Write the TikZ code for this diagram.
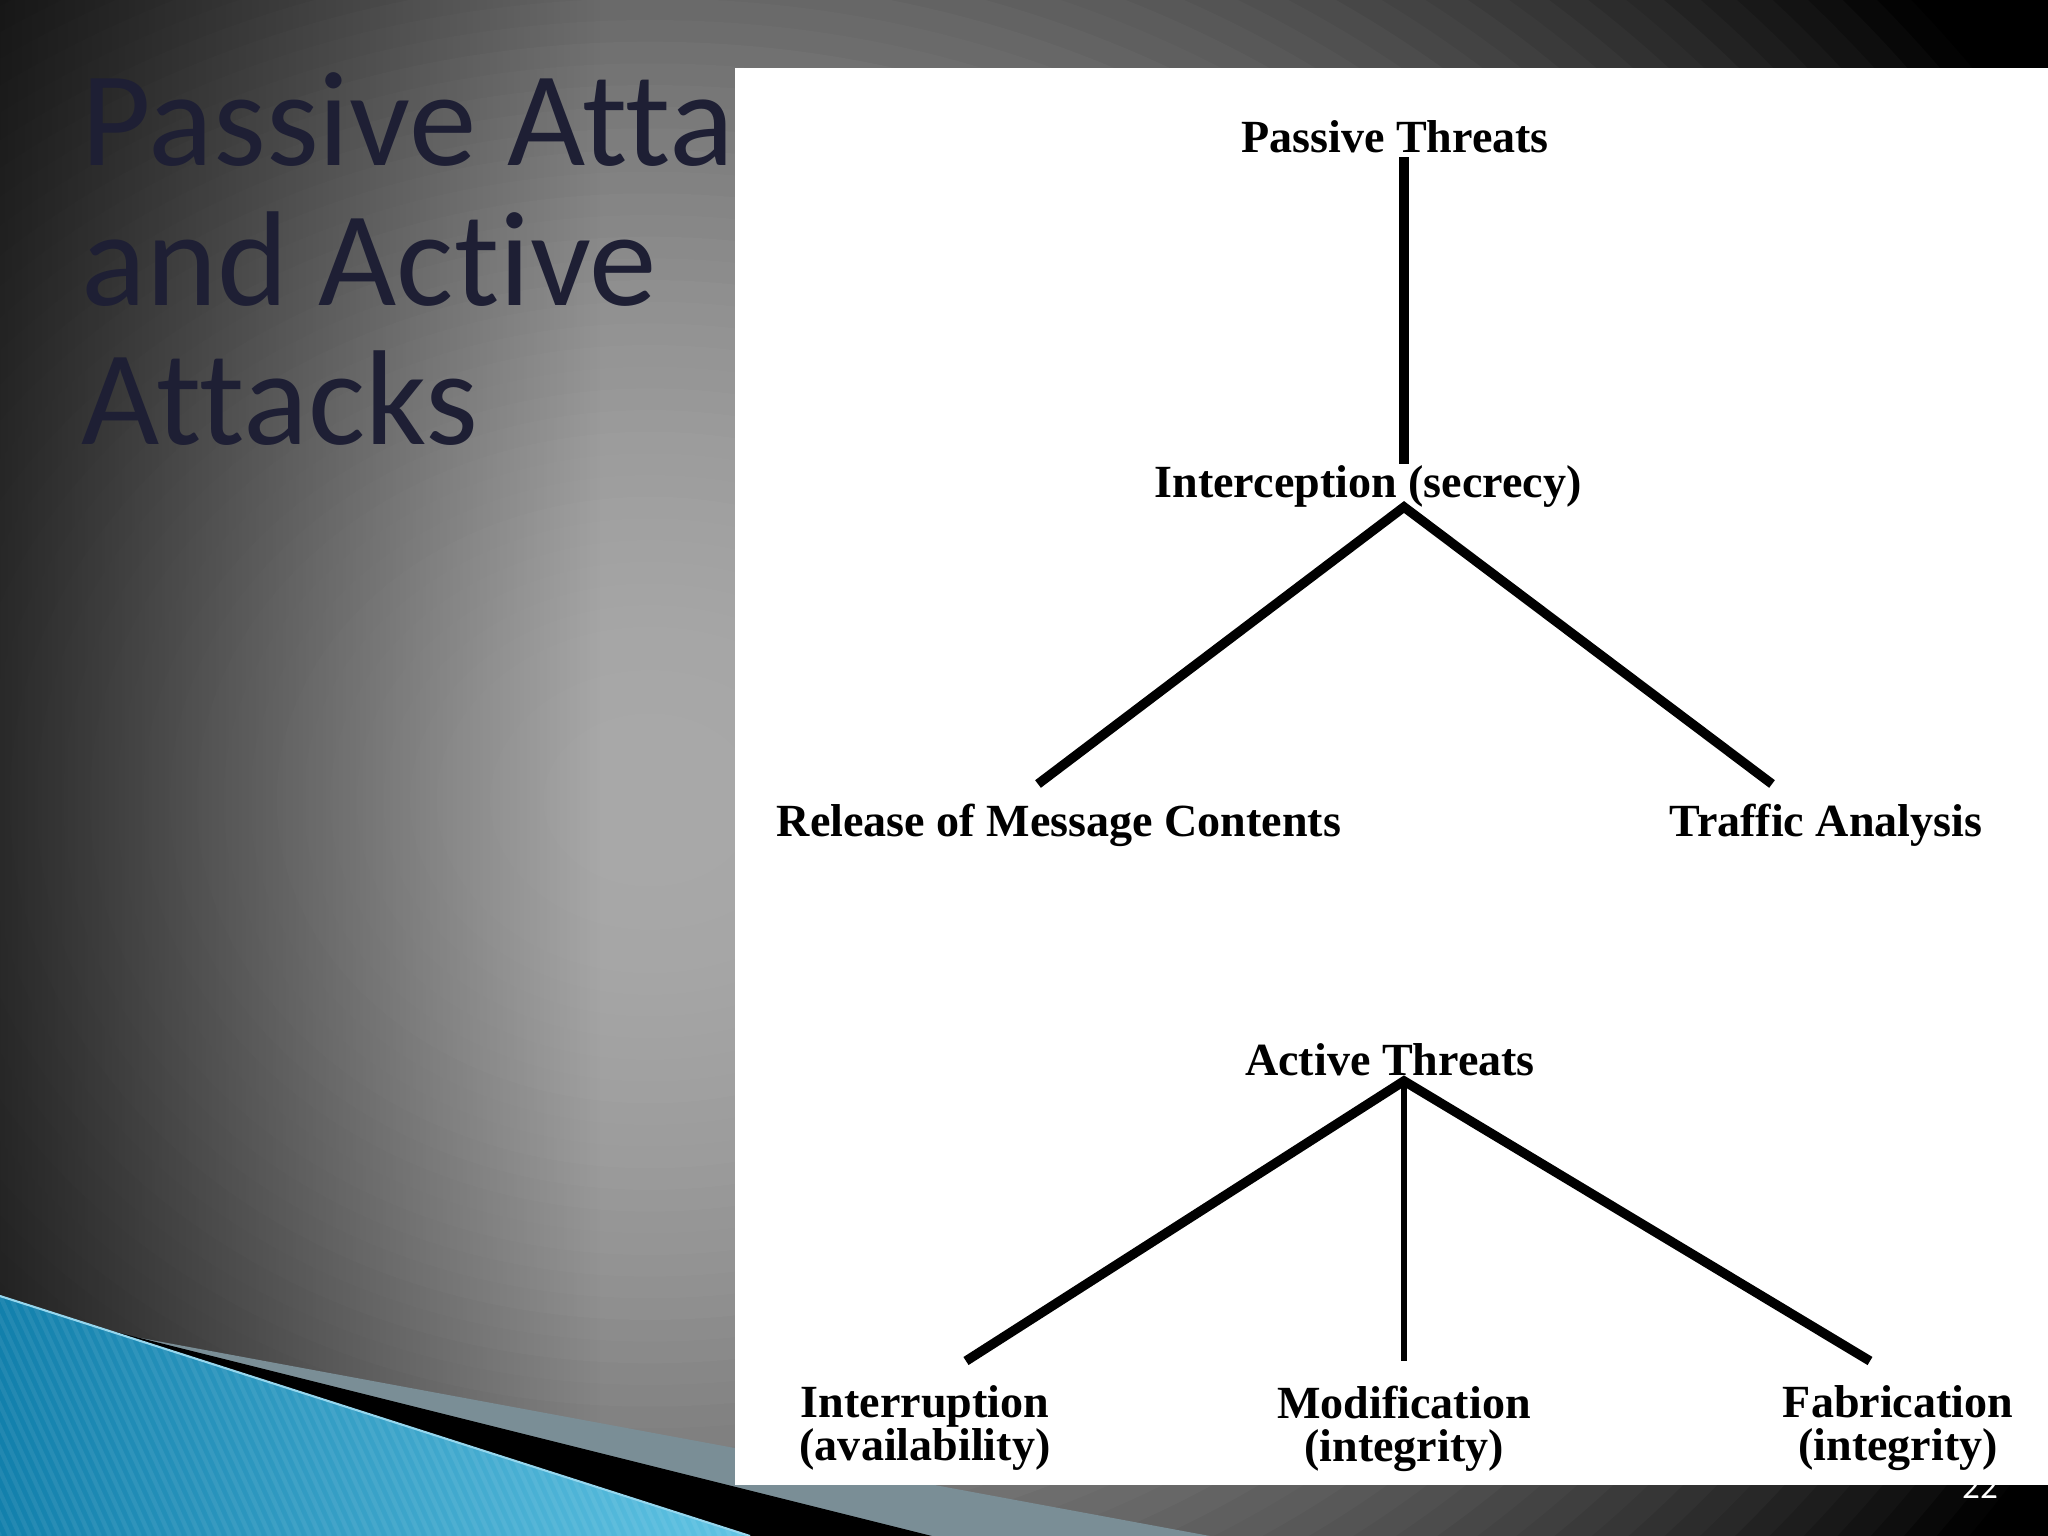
\documentclass[tikz,border=0pt]{standalone}
\usepackage{fontspec}
\usepackage{tikz}
\usetikzlibrary{calc}
\usetikzlibrary{fadings}
\newfontfamily\slidefont[Ligatures=NoCommon]{Carlito}
\newfontfamily\figfont{Liberation Serif}
\definecolor{titlenavy}{RGB}{30,31,52}
\definecolor{bluedark}{RGB}{18,128,172}
\definecolor{bluelight}{RGB}{96,196,228}
\definecolor{bluehigh}{RGB}{150,215,238}
\definecolor{slateband}{RGB}{122,142,150}

\begin{document}
\begin{tikzpicture}[
    x=0.01cm, y=-0.01cm,
    title text/.style={font=\slidefont\fontsize{38.4}{40}\selectfont, text=titlenavy, anchor=base west, inner sep=0pt},
    threat/.style={font=\figfont\bfseries\fontsize{13.1}{12.2}\selectfont, inner sep=0pt, align=center},
    heavy line/.style={line width=2.7pt},
    light line/.style={line width=1.6pt},
    ]
    \useasboundingbox (0,0) rectangle (2048,1536);

    % slide background
    \begin{scope}
    \clip (0,0) rectangle (2048,1536);
    \fill[black] (0,0) rectangle (2048,1536);
    \foreach \i in {60,59,...,1} {
        \pgfmathsetmacro\rr{\i/60}
        \pgfmathsetmacro\gg{max(0,0.66*(1-(\rr-1/120)*(\rr-1/120)))}
        \definecolor{bgstep}{gray}{\gg}
        \fill[bgstep] (650,800) ellipse [x radius={1600*\rr}, y radius={1300*\rr}];
    }
    \fill[black, path fading=east] (-250,0) rectangle (600,1536);
    % ribbon bottom left
    \fill[slateband] (0,1312) -- (1210,1536) -- (0,1536) -- cycle;
    \fill[black] (0,1303) -- (932,1536) -- (0,1536) -- cycle;
    \shade[left color=bluedark, right color=bluelight] (0,1296) -- (750,1536) -- (0,1536) -- cycle;
    \clip (0,1296) -- (750,1536) -- (0,1536) -- cycle;
    \foreach \k in {0,...,90}
        \draw[white, opacity=0.07, line width=1.2pt] ({\k*10-120},1296) -- ++(110,240);
    \end{scope}
    \draw[bluehigh, line width=0.6pt] (0,1296) -- (750,1536);

    % slide number and title
    \node[font=\slidefont\fontsize{10}{10}\selectfont, text=white, anchor=base, inner sep=0pt] (num) at (1980,1498) {22};
    \node[title text] (t1) at (81,165) {Passive Attacks};
    \node[title text] (t2) at (81,305) {and Active};
    \node[title text] (t3) at (81,444) {Attacks};

    % picture
    \fill[white] (735,68) rectangle (2048,1485);

    % passive threats
    \node[threat, anchor=base] (pt) at (1395,152) {Passive Threats};
    \node[threat, anchor=base] (ic) at (1368,497) {Interception (secrecy)};
    \node[threat, anchor=base] (rm) at (1059,836) {Release of Message Contents};
    \node[threat, anchor=base] (ta) at (1826,836) {Traffic Analysis};
    \draw[heavy line] ($(pt.base)+(9,5)$) -- ($(ic.base)+(36,-33)$);
    \draw[heavy line] ($(rm.base)+(-21,-52)$) -- ($(ic.base)+(36,10)$) -- ($(ta.base)+(-54,-52)$);

    % active threats
    \node[threat, anchor=base] (at) at (1390,1075) {Active Threats};
    \node[threat, anchor=north] (ir) at (925,1385) {Interruption\\(availability)};
    \node[threat, anchor=north] (md) at (1404,1385) {Modification\\(integrity)};
    \node[threat, anchor=north] (fb) at (1898,1385) {Fabrication\\(integrity)};
    \draw[heavy line] ($(ir.north)+(41,-24)$) -- ($(at.base)+(14,6)$) -- ($(fb.north)+(-28,-24)$);
    \draw[light line] ($(at.base)+(14,6)$) -- ($(md.north)+(0,-24)$);
\end{tikzpicture}
\end{document}
